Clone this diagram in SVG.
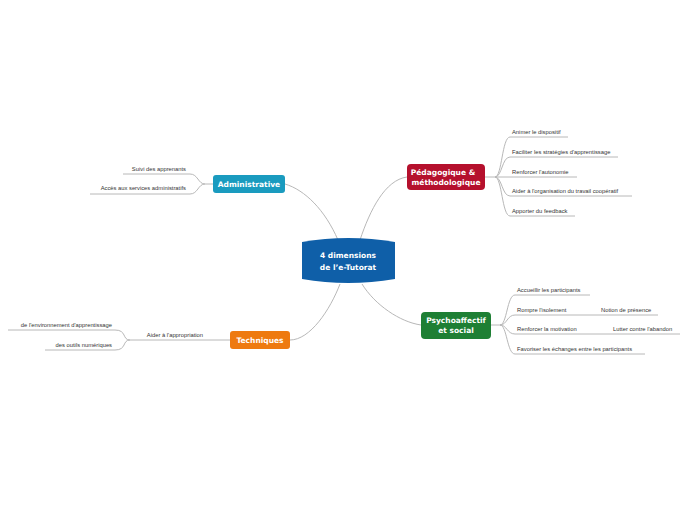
<svg xmlns="http://www.w3.org/2000/svg" width="697" height="520" viewBox="0 0 697 520">
<style>
.c{fill:none;stroke:#b8b8b8;stroke-width:1}
.l{font-family:"Liberation Sans",Arial,sans-serif;font-size:5.8px;fill:#333}
.n{font-family:"DejaVu Sans",sans-serif;font-size:7.5px;font-weight:bold;fill:#fff;text-anchor:middle}
</style>
<rect width="697" height="520" fill="#fff"/>
<g id="connectors">
<path class="c" d="M338 240 C325 210 305 190 285 184"/>
<path class="c" d="M360 240 C370 210 385 180 407 177"/>
<path class="c" d="M340 284 C330 310 310 340 290 340"/>
<path class="c" d="M362 284 C375 305 400 322 421 325"/>
<path class="c" d="M485 177 H495 C502 177 502 137 510 137 H568"/>
<path class="c" d="M495 177 C502 177 502 157 510 157 H618"/>
<path class="c" d="M495 177 H510 H577"/>
<path class="c" d="M495 177 C502 177 502 196 510 196 H632"/>
<path class="c" d="M495 177 C502 177 502 216 510 216 H575"/>
<path class="c" d="M491 325 H500 C507 325 507 295 515 295 H590"/>
<path class="c" d="M500 325 C507 325 507 315 515 315 H570 H658"/>
<path class="c" d="M500 325 C507 325 507 334 515 334 H583 H680"/>
<path class="c" d="M500 325 C507 325 507 354 515 354 H645"/>
<path class="c" d="M213 184 H205 C198 184 198 174 190 174 H123"/>
<path class="c" d="M205 184 C198 184 198 194 190 194 H90"/>
<path class="c" d="M230 340 H130"/>
<path class="c" d="M130 340 C122 340 127 330 115 330 H8"/>
<path class="c" d="M130 340 C122 340 127 350 115 350 H45"/>
</g>
<g id="center">
<path d="M302 242 Q348 234 395 242 V279 Q348 287 302 279 Z" fill="#0f5fa8"/>
<text class="n" x="348" y="258" font-size="9.5">4 dimensions</text>
<text class="n" x="348" y="270" font-size="9.5">de l’e-Tutorat</text>
</g>
<g id="pedagogique">
<rect x="407" y="164" width="78" height="26" rx="4" fill="#b5102d"/>
<text class="n" x="443" y="175">Pédagogique &amp;</text>
<text class="n" x="446" y="185">méthodologique</text>
<text class="l" x="512" y="134">Animer le dispositif</text>
<text class="l" x="512" y="154">Faciliter les stratégies d'apprentissage</text>
<text class="l" x="512" y="174">Renforcer l'autonomie</text>
<text class="l" x="512" y="193">Aider à l'organisation du travail coopératif</text>
<text class="l" x="512" y="213">Apporter du feedback</text>
</g>
<g id="psycho">
<rect x="421" y="312" width="70" height="27" rx="4" fill="#1e7f34"/>
<text class="n" x="456" y="323">Psychoaffectif</text>
<text class="n" x="456" y="333">et social</text>
<text class="l" x="517" y="292">Accueillir les participants</text>
<text class="l" x="517" y="312">Rompre l'isolement</text>
<text class="l" x="601" y="312">Notion de présence</text>
<text class="l" x="517" y="331">Renforcer la motivation</text>
<text class="l" x="613" y="331">Lutter contre l'abandon</text>
<text class="l" x="517" y="351">Favoriser les échanges entre les participants</text>
</g>
<g id="administrative">
<rect x="213" y="175" width="72" height="18" rx="3" fill="#1a9bbf"/>
<text class="n" x="249" y="187">Administrative</text>
<text class="l" x="186" y="171" text-anchor="end">Suivi des apprenants</text>
<text class="l" x="186" y="190" text-anchor="end">Accès aux services administratifs</text>
</g>
<g id="techniques">
<rect x="230" y="331" width="60" height="18" rx="3" fill="#ee7a10"/>
<text class="n" x="260" y="343">Techniques</text>
<text class="l" x="203" y="337" text-anchor="end">Aider à l'appropriation</text>
<text class="l" x="112" y="327" text-anchor="end">de l'environnement d'apprentissage</text>
<text class="l" x="112" y="347" text-anchor="end">des outils numériques</text>
</g>
</svg>
